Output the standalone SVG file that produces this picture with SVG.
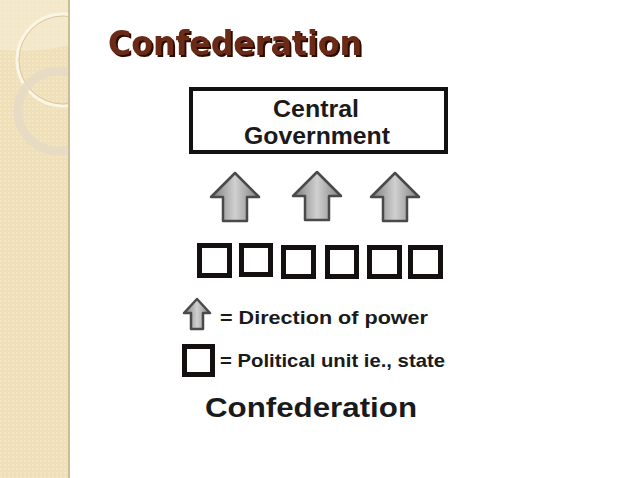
<svg xmlns="http://www.w3.org/2000/svg" width="638" height="478" viewBox="0 0 638 478">
<style>
.t{font-family:"Liberation Sans",Arial,sans-serif;font-weight:bold;fill:#1a1a1a}
.sq{fill:#fff;stroke:#141010;stroke-width:5}
.arr{fill:url(#ag);stroke:#4a4a4a;stroke-width:2.5;stroke-linejoin:round}
</style>
<defs>
<linearGradient id="ag" x1="0" y1="0" x2="1" y2="0">
<stop offset="0" stop-color="#7a7a7a"/>
<stop offset="0.5" stop-color="#d0d0d0"/>
<stop offset="1" stop-color="#808080"/>
</linearGradient>
<pattern id="dots" width="4" height="4" patternUnits="userSpaceOnUse">
<rect width="4" height="4" fill="#efe0ba"/>
<rect width="2" height="2" fill="#f3e6c4"/>
</pattern>
<clipPath id="strip"><rect x="0" y="0" width="70" height="478"/></clipPath>
<filter id="shadow" x="-5%" y="-20%" width="110%" height="150%">
<feDropShadow dx="2" dy="2" stdDeviation="0.4" flood-color="#2a0d05" flood-opacity="1"/>
</filter>
</defs>
<rect width="638" height="478" fill="#fff"/>
<g id="background">
<rect x="0" y="0" width="70" height="478" fill="url(#dots)"/>
<g clip-path="url(#strip)">
<path d="M0 0 H70 V45 C50 50 25 52 0 50 Z" fill="#f6ecd6" opacity="0.6"/>
<circle cx="63" cy="60" r="46" fill="none" stroke="#fbf5e6" stroke-width="3"/>
<circle cx="63" cy="60" r="44" fill="none" stroke="#d8c9a2" stroke-width="1"/>
<circle cx="58" cy="111" r="40" fill="none" stroke="#e6dcc4" stroke-width="9" opacity="0.9"/>
</g>
<rect x="68" y="0" width="2" height="478" fill="#cbbd98"/>
</g>
<g id="title">
<text x="108" y="55" font-family="'DejaVu Sans',sans-serif" font-weight="bold" font-size="33" fill="#6a2a18" textLength="254" lengthAdjust="spacingAndGlyphs" filter="url(#shadow)">Confederation</text>
</g>
<g id="central-government">
<rect x="191" y="89" width="255" height="63" fill="#fff" stroke="#111" stroke-width="4"/>
<text class="t" x="316" y="117" font-size="23" text-anchor="middle" textLength="86" lengthAdjust="spacingAndGlyphs">Central</text>
<text class="t" x="317" y="144" font-size="23" text-anchor="middle" textLength="146" lengthAdjust="spacingAndGlyphs">Government</text>
</g>
<g id="connectors">
<path class="arr" d="M235 173 L259 197 L247 197 L247 221 L223 221 L223 197 L211 197 Z"/>
<path class="arr" d="M317 172 L341 196 L329 196 L329 220 L305 220 L305 196 L293 196 Z"/>
<path class="arr" d="M395 173 L419 197 L407 197 L407 221 L383 221 L383 197 L371 197 Z"/>
</g>
<g id="states">
<rect class="sq" x="199.5" y="245.5" width="30" height="30"/>
<rect class="sq" x="241.5" y="245.5" width="29" height="29"/>
<rect class="sq" x="283.5" y="247.5" width="30" height="29"/>
<rect class="sq" x="327.5" y="247.5" width="29" height="29"/>
<rect class="sq" x="369.5" y="247.5" width="30" height="29"/>
<rect class="sq" x="410.5" y="247.5" width="30" height="29"/>
</g>
<g id="legend">
<path class="arr" d="M197 299 L210 313 L203 313 L203 329 L191 329 L191 313 L184 313 Z" stroke-width="1.5"/>
<text class="t" x="220" y="324" font-size="18.5" textLength="208" lengthAdjust="spacingAndGlyphs">= Direction of power</text>
<rect class="sq" x="184.5" y="346.5" width="28" height="28"/>
<text class="t" x="220" y="367" font-size="18.5" textLength="225" lengthAdjust="spacingAndGlyphs">= Political unit ie., state</text>
</g>
<g id="caption">
<text class="t" x="205" y="417" font-size="27" textLength="212" lengthAdjust="spacingAndGlyphs">Confederation</text>
</g>
</svg>
